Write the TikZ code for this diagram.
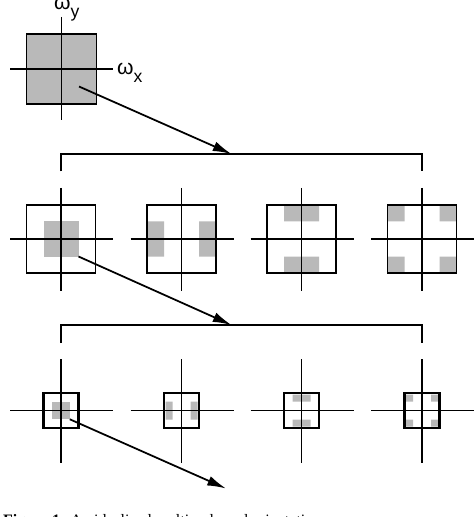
\documentclass[tikz,border=0pt]{standalone}
\usepackage{fontspec}
\setmainfont{Liberation Serif}
\newfontfamily\axisfont{Liberation Sans}
\usetikzlibrary{arrows.meta}
\definecolor{bandgray}{RGB}{185,185,185}

\begin{document}
\begin{tikzpicture}[x=0.03cm,y=-0.03cm,
  axis/.style={line width=1.6pt},
  box/.style={line width=1.6pt},
  smallbox/.style={line width=2pt},
  band/.style={fill=bandgray},
  bracket/.style={line width=1.6pt},
  pointer/.style={line width=1.5pt,-{Latex[length=16pt,width=8.5pt]}}]
\useasboundingbox (0,0) rectangle (474,517);
\clip (0,0) rectangle (474,517);

% full band
\fill[band] (26.5,34) rectangle (96.5,104);
\draw[box] (26.5,34) rectangle (96.5,104);
\draw[axis] (61.5,17) -- (61.5,120);
\draw[axis] (10,69) -- (113,69);
\node[anchor=base west,inner sep=0] (wy) at (54,10)
  {\axisfont\fontsize{18}{18}\selectfont ω\raisebox{-6pt}{\fontsize{15}{15}\selectfont y}};
\node[anchor=base west,inner sep=0] (wx) at (117,75)
  {\axisfont\fontsize{18}{18}\selectfont ω\raisebox{-6pt}{\fontsize{15}{15}\selectfont x}};

\coordinate (low0) at (79,86.5);
\coordinate (split1) at (231.5,154);
\draw[pointer] (low0) -- (split1);
\draw[bracket] (61,171.5) -- (61,154) -- (422,154) -- (422,171.5);

% first level
\begin{scope}[shift={(61,239)}]
\fill[band] (-17.5,-17.5) rectangle (17.5,17.5);
\draw[box] (-34.5,-34) rectangle (34.5,34);
\draw[axis] (0,-51) -- (0,52);
\draw[axis] (-51,0) -- (52,0);
\end{scope}
\begin{scope}[shift={(181.5,239)}]
\fill[band] (-34.5,-17.5) rectangle (-17.5,17.5) (17.5,-17.5) rectangle (34.5,17.5);
\draw[box] (-34.5,-34) rectangle (34.5,34);
\draw[axis] (0,-51) -- (0,52);
\draw[axis] (-51,0) -- (52,0);
\end{scope}
\begin{scope}[shift={(301.5,239)}]
\fill[band] (-17.5,-34) rectangle (17.5,-17.5) (-17.5,17.5) rectangle (17.5,34);
\draw[box] (-34.5,-34) rectangle (34.5,34);
\draw[axis] (0,-51) -- (0,52);
\draw[axis] (-51,0) -- (52,0);
\end{scope}
\begin{scope}[shift={(422,239)}]
\fill[band] (-34.5,-34) rectangle (-17.5,-17.5) (17.5,-34) rectangle (34.5,-17.5)
            (-34.5,17.5) rectangle (-17.5,34) (17.5,17.5) rectangle (34.5,34);
\draw[box] (-34.5,-34) rectangle (34.5,34);
\draw[axis] (0,-51) -- (0,52);
\draw[axis] (-51,0) -- (52,0);
\end{scope}

\coordinate (low1) at (78.5,256.5);
\coordinate (split2) at (231.5,325);
\draw[pointer] (low1) -- (split2);
\draw[bracket] (61,343) -- (61,325) -- (422,325) -- (422,343);

% second level
\begin{scope}[shift={(61,410.5)}]
\fill[band] (-8.75,-8.75) rectangle (8.75,8.75);
\draw[smallbox] (-17.5,-17.5) rectangle (17.5,17.5);
\draw[axis] (0,-51.5) -- (0,52);
\draw[axis] (-51,0) -- (52,0);
\end{scope}
\begin{scope}[shift={(181.5,410.5)}]
\fill[band] (-16,-9) rectangle (-9,9) (9,-9) rectangle (16,9);
\draw[smallbox] (-17.5,-17.5) rectangle (17.5,17.5);
\draw[axis] (0,-51.5) -- (0,52);
\draw[axis] (-51,0) -- (52,0);
\end{scope}
\begin{scope}[shift={(301.5,410.5)}]
\fill[band] (-9,-16) rectangle (9,-9) (-9,9) rectangle (9,16);
\draw[smallbox] (-17.5,-17.5) rectangle (17.5,17.5);
\draw[axis] (0,-51.5) -- (0,52);
\draw[axis] (-51,0) -- (52,0);
\end{scope}
\begin{scope}[shift={(422,410.5)}]
\fill[band] (-16,-16) rectangle (-9,-9) (9,-16) rectangle (16,-9)
            (-16,9) rectangle (-9,16) (9,9) rectangle (16,16);
\draw[smallbox] (-17.5,-17.5) rectangle (17.5,17.5);
\draw[axis] (0,-51.5) -- (0,52);
\draw[axis] (-51,0) -- (52,0);
\end{scope}

\coordinate (low2) at (69.75,419.25);
\coordinate (next) at (226,488.5);
\draw[pointer] (low2) -- (next);

\node[anchor=base west,inner sep=0] (caption) at (3,525.5)
  {\fontsize{13.6}{16}\selectfont\textbf{Figure 1:} An idealized multiscale and orientation};
\end{tikzpicture}
\end{document}
